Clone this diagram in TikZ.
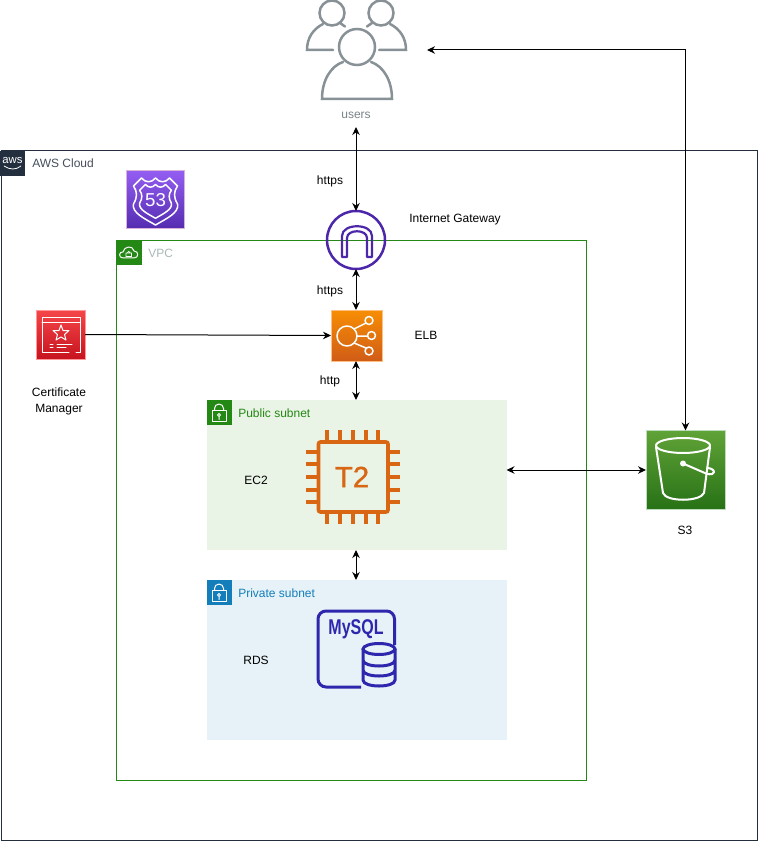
\documentclass[tikz,border=0pt]{standalone}
\usepackage{fontspec}
\setmainfont{Liberation Sans}
\newfontfamily\narrowfont[FakeStretch=0.75]{Liberation Sans}
\newfontfamily\heavyfont[FakeBold=1.2]{Liberation Sans}
\usetikzlibrary{arrows.meta}
\definecolor{awsdark}{HTML}{232F3E}
\definecolor{vpcgreen}{HTML}{248814}
\definecolor{vpctext}{HTML}{AAB7B8}
\definecolor{pubfill}{HTML}{E9F3E6}
\definecolor{privfill}{HTML}{E6F2F8}
\definecolor{privblue}{HTML}{147EBA}
\definecolor{usergray}{HTML}{879196}
\definecolor{igwpurple}{HTML}{4D27AA}
\definecolor{chiporange}{HTML}{D86613}
\definecolor{rdsblue}{HTML}{2E27AD}
\def\px{0.75pt}
\tikzset{
  lbl/.style={font=\fontsize{9}{11}\selectfont,inner sep=0pt,align=center},
  link/.style={{Stealth[length=8*\px,width=7.5*\px]}-{Stealth[length=8*\px,width=7.5*\px]},
    line width=\px},
  oneway/.style={-{Stealth[length=8*\px,width=7.5*\px]},line width=\px},
  frame/.style={draw,inner sep=0pt,outer sep=0pt},
  tile/.style={inner sep=0pt,outer sep=0pt,minimum size=#1*\px,line width=\px},
  glyph/.style={draw=white,line width=1.5*\px,line join=round,line cap=round},
  lockicon/.pic={
    \draw[glyph,line width=\px] (-7,-1) rectangle (7,10);
    \draw[glyph,line width=\px] (-4.5,-1) -- (-4.5,-3) arc (180:360:4.5) -- (4.5,-1);
    \draw[glyph,line width=\px] (0,3.5) circle (1.5) (0,5) -- (0,8);
  }
}
\begin{document}
\begin{tikzpicture}[x=\px,y=-\px]
  \useasboundingbox (0,0) rectangle (757,841);
  % frames
  \node[frame,draw=awsdark,line width=\px,minimum width=756*\px,minimum height=689*\px]
    (cloud) at (379,495.5) {};
  \fill[awsdark] (0,151) rectangle (25,176);
  \node[lbl,white,font=\fontsize{8.5}{9}\selectfont] (awslogo) at (12.5,160.5) {aws};
  \draw[white,line width=0.8*\px] (4,166) .. controls (10,170) and (16,170) .. (21,166);
  \node[lbl,anchor=west,text=awsdark!85] (cloudlabel) at (32,163.5) {AWS Cloud};
  \node[frame,draw=vpcgreen,line width=\px,minimum width=470*\px,minimum height=540*\px]
    (vpc) at (351.5,510.5) {};
  \fill[vpcgreen] (116.5,240.5) rectangle (141.5,265.5);
  \draw[glyph,line width=\px] (123,258) .. controls (118,258) and (119,251) .. (123,252)
    .. controls (124,246) and (133,245) .. (134,251)
    .. controls (139,251) and (139,258) .. (134,258) -- cycle;
  \draw[white,line width=.7*\px] (126,253) rectangle (131.5,256.5)
    (127,253) arc (180:360:1.7);
  \node[lbl,anchor=west,text=vpctext] (vpclabel) at (148,253.5) {VPC};
  \node[frame,draw=none,fill=pubfill,minimum width=300*\px,minimum height=150*\px]
    (public) at (356.5,475) {};
  \fill[vpcgreen] (206.5,400) rectangle (231.5,425);
  \pic at (219,411.5) {lockicon};
  \node[lbl,anchor=west,text=vpcgreen] (publiclabel) at (238,413.5) {Public subnet};
  \node[frame,draw=none,fill=privfill,minimum width=300*\px,minimum height=160*\px]
    (private) at (356.5,660) {};
  \fill[privblue] (206.5,580) rectangle (231.5,605);
  \pic at (219,591.5) {lockicon};
  \node[lbl,anchor=west,text=privblue] (privatelabel) at (238,593.5) {Private subnet};
  % users
  \begin{scope}[draw=usergray,line width=2.5*\px,line cap=round]
    \draw (332,13) circle (12.5);
    \draw (381,13) circle (12.5);
    \draw (357,47) circle (18);
    \draw (333,50) -- (307,50) .. controls (307,38) and (313,29) .. (323,24);
    \draw (340,23) -- (345,26.5);
    \draw (379,50) -- (406,50) .. controls (406,38) and (400,29) .. (390,24);
    \draw (372,23) -- (367,26.5);
    \draw (343,62) .. controls (331,66) and (322,80) .. (322,99) -- (392,99)
      .. controls (392,80) and (383,66) .. (371,62);
  \end{scope}
  \node[lbl,text=usergray!90!black] (userslabel) at (356,115) {users};
  \coordinate (usersdown) at (356,127);
  \coordinate (usersside) at (427,50);
  % route 53
  \node[tile=58,draw=violet!30!white,top color={rgb,255:red,148;green,93;blue,242},
        bottom color={rgb,255:red,84;green,44;blue,176}]
    (dns) at (155.5,200) {};
  \foreach \k in {1,0.72}
    \draw[glyph,shift={(155.5,201)},scale=\k]
      (0,-23) .. controls (4,-18) and (10,-18) .. (14,-23) -- (22,-15)
      .. controls (18,-9) and (18,-4) .. (22,3)
      .. controls (24,12) and (10,18) .. (0,24)
      .. controls (-10,18) and (-24,12) .. (-22,3)
      .. controls (-18,-4) and (-18,-9) .. (-22,-15) -- (-14,-23)
      .. controls (-10,-18) and (-4,-18) .. (0,-23) -- cycle;
  \node[lbl,white,font=\fontsize{14}{14}\selectfont] (dnstext) at (155.5,200) {53};
  % internet gateway
  \node[circle,draw=igwpurple,line width=2.5*\px,inner sep=0pt,outer sep=0pt,minimum size=58*\px]
    (igw) at (356,240) {};
  \draw[igwpurple,line width=2.2*\px,line join=round]
    (342,257) -- (342,236) .. controls (342,223) and (372,223) .. (372,236) -- (372,257)
    -- (367,257) -- (367,238) .. controls (367,229) and (347,229) .. (347,238)
    -- (347,257) -- cycle;
  % load balancer
  \node[tile=51,draw=orange!50!white,top color={rgb,255:red,247;green,142;blue,4},
        bottom color={rgb,255:red,208;green,92;blue,23}]
    (elb) at (356.5,335.5) {};
  \draw[glyph] (347,336) circle (10);
  \draw[glyph] (369,320.5) circle (4) (371.5,335.5) circle (4) (369,351) circle (4);
  \draw[glyph] (357,336) -- (367.5,336) (354,329) -- (366,323) (354,343) -- (366,348);
  % certificate manager
  \node[tile=49,draw=red!40!white,top color={rgb,255:red,245;green,71;blue,73},
        bottom color={rgb,255:red,199;green,19;blue,31}]
    (acm) at (60.5,334.5) {};
  \draw[glyph,line width=\px] (69,352) -- (42,352) -- (42,317) -- (80,317) -- (80,352) -- (76,352)
    (42,322) -- (80,322);
  \draw[glyph,line width=\px] (61,325) -- (63,330.5) -- (69,330.5) -- (64.5,334.5) -- (66,340)
    -- (61,337) -- (56,340) -- (57.5,334.5) -- (53,330.5) -- (59,330.5) -- cycle;
  \draw[glyph,line width=\px] (50,344) -- (53,344) (57,344) -- (72,344)
    (50,347.5) -- (53,347.5) (57,347.5) -- (66,347.5);
  % ec2
  \draw[chiporange,line width=3.6*\px,rounded corners=2*\px] (318.5,442) rectangle (388,512);
  \foreach \p in {327,340,353,366,378}
    \draw[chiporange,line width=3.3*\px] (\p,430) -- (\p,441) (\p,513) -- (\p,524);
  \foreach \p in {452,464,477,490,502}
    \draw[chiporange,line width=3.3*\px] (306,\p) -- (317,\p) (389,\p) -- (400,\p);
  \node[lbl,text=chiporange,font=\heavyfont\fontsize{22}{22}\selectfont] (t2) at (352,477) {T2};
  % rds
  \draw[rdsblue,line width=3*\px] (394.5,645) -- (394.5,619) arc (0:-90:8) -- (326,611)
    arc (270:180:8) -- (318,679) arc (180:90:8) -- (361,687);
  \node[lbl,text=rdsblue,font=\narrowfont\bfseries\fontsize{16}{16}\selectfont] (mysql) at (356,629) {MySQL};
  \draw[rdsblue,line width=3*\px,fill=privfill] (379,649) ellipse (16 and 5.5);
  \draw[rdsblue,line width=3*\px] (363,649) -- (363,680) .. controls (363,688) and (395,688) .. (395,680)
    -- (395,649)
    (363,660) .. controls (363,668) and (395,668) .. (395,660)
    (363,670) .. controls (363,678) and (395,678) .. (395,670);
  % s3
  \node[tile=79,draw=green!30!gray!40,top color={rgb,255:red,96;green,163;blue,55},
        bottom color={rgb,255:red,39;green,113;blue,22}]
    (bucket) at (685.5,470) {};
  \draw[glyph,line width=2*\px] (683,445.5) ellipse (27 and 7.5);
  \draw[glyph,line width=2*\px] (656,447) -- (663,493) .. controls (666,502) and (700,502) .. (704,493) -- (710,447);
  \fill[white] (683,463.5) circle (3);
  \draw[glyph,line width=2*\px] (683,463.5) -- (706,473.5) .. controls (717,477) and (716,468) .. (707,468);
  % labels
  \node[lbl] (httpsup) at (330,181) {https};
  \node[lbl] (igwlabel) at (455,220) {Internet Gateway};
  \node[lbl] (httpsdown) at (330,291) {https};
  \node[lbl] (elblabel) at (426,335) {ELB};
  \node[lbl] (httplabel) at (330,381) {http};
  \node[lbl] (acmlabel) at (59,401) {Certificate\\[1pt]Manager};
  \node[lbl] (ec2label) at (256,480) {EC2};
  \node[lbl] (rdslabel) at (256,660) {RDS};
  \node[lbl] (s3label) at (685,530) {S3};
  % connectors
  \draw[link] (usersdown) -- (igw.north);
  \draw[link] (usersside) -| (bucket.north);
  \draw[link] (igw.south) -- (elb.north -| igw.south);
  \draw[oneway] (acm.east) -- (elb.west);
  \draw[link] (elb.south -| igw.south) -- (public.north -| igw.south);
  \draw[link] (public.south -| igw.south) -- (private.north -| igw.south);
  \draw[link] (public.east |- bucket.west) -- (bucket.west);
\end{tikzpicture}
\end{document}
